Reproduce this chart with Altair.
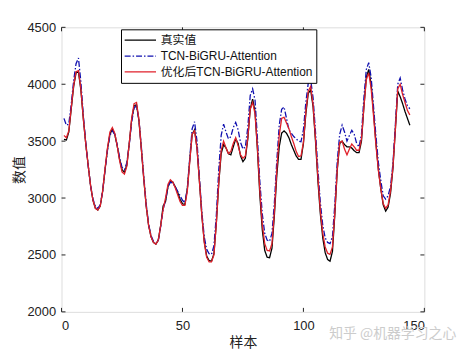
import altair as alt
import pandas as pd

idx = list(range(1, 145))

true_vals = [3515, 3510, 3580, 3780, 3980, 4100, 4110, 3950, 3700, 3480,
             3290, 3110, 2980, 2910, 2895, 2930, 3060, 3250, 3430, 3560,
             3605, 3560, 3460, 3340, 3250, 3225, 3290, 3480, 3690, 3810,
             3820, 3680, 3430, 3170, 2930, 2760, 2660, 2610, 2595, 2630,
             2760, 2930, 2970, 3100, 3150, 3140, 3100, 3050, 2990, 2950,
             2945, 3080, 3330, 3560, 3600, 3440, 3150, 2850, 2620, 2490,
             2450, 2445, 2510, 2780, 3130, 3390, 3470, 3440, 3390, 3380,
             3450, 3520, 3480, 3370, 3320, 3350, 3520, 3780, 3870, 3760,
             3420, 3020, 2720, 2540, 2480, 2475, 2560, 2850, 3200, 3450,
             3570, 3590, 3570, 3530, 3470, 3420, 3370, 3340, 3340, 3480,
             3740, 3920, 3950, 3800, 3500, 3150, 2860, 2650, 2520, 2460,
             2445, 2530, 2860, 3250, 3480, 3500, 3470, 3450, 3450, 3440,
             3415, 3400, 3400, 3500, 3800, 4060, 4130, 4000, 3750, 3480,
             3250, 3080, 2940, 2885, 2920, 3040, 3260, 3600, 3940, 3890,
             3830, 3760, 3700, 3640]

tcn_vals = [3700, 3640, 3650, 3820, 4030, 4180, 4230, 4020, 3730, 3490,
            3290, 3110, 2990, 2930, 2910, 2940, 3060, 3250, 3420, 3550,
            3590, 3560, 3470, 3360, 3270, 3250, 3310, 3470, 3670, 3790,
            3810, 3690, 3450, 3190, 2950, 2770, 2670, 2620, 2600, 2630,
            2750, 2900, 2980, 3100, 3140, 3130, 3100, 3060, 3020, 2980,
            2960, 3080, 3350, 3610, 3670, 3500, 3180, 2880, 2660, 2550,
            2510, 2505, 2580, 2850, 3250, 3550, 3650, 3580, 3520, 3540,
            3620, 3665, 3600, 3490, 3430, 3450, 3620, 3900, 3960, 3860,
            3520, 3140, 2860, 2690, 2630, 2620, 2690, 2960, 3330, 3640,
            3780, 3800, 3700, 3600, 3570, 3540, 3520, 3500, 3495, 3600,
            3840, 4010, 4040, 3880, 3580, 3250, 2960, 2760, 2650, 2610,
            2600, 2660, 2950, 3330, 3560, 3640, 3580, 3500, 3550, 3595,
            3560, 3480, 3450, 3560, 3880, 4130, 4190, 4060, 3800, 3540,
            3310, 3150, 3020, 2990, 3020, 3100, 3300, 3640, 4000, 4055,
            3950, 3870, 3810, 3785]

opt_vals = [3550, 3530, 3590, 3790, 3990, 4110, 4120, 3960, 3700, 3480,
            3290, 3110, 2980, 2910, 2895, 2930, 3060, 3260, 3440, 3580,
            3620, 3570, 3460, 3330, 3230, 3210, 3280, 3480, 3700, 3830,
            3840, 3690, 3430, 3170, 2930, 2760, 2660, 2610, 2595, 2630,
            2760, 2900, 3000, 3120, 3160, 3140, 3090, 3030, 2970, 2935,
            2935, 3060, 3320, 3560, 3590, 3440, 3150, 2850, 2610, 2480,
            2440, 2440, 2500, 2780, 3140, 3420, 3500, 3440, 3390, 3410,
            3480, 3530, 3460, 3380, 3350, 3370, 3530, 3780, 3840, 3740,
            3440, 3060, 2770, 2600, 2540, 2535, 2600, 2880, 3250, 3550,
            3700, 3710, 3660, 3610, 3540, 3480, 3410, 3365, 3370, 3490,
            3760, 3940, 3980, 3820, 3520, 3180, 2890, 2690, 2570, 2515,
            2505, 2570, 2880, 3260, 3490, 3500, 3430, 3380, 3430, 3475,
            3450, 3420, 3420, 3520, 3800, 4040, 4100, 3960, 3720, 3460,
            3240, 3080, 2950, 2910, 2940, 3060, 3270, 3600, 3960, 4000,
            3910, 3840, 3770, 3730]

series_names = ["真实值", "TCN-BiGRU-Attention", "优化后TCN-BiGRU-Attention"]
series_colors = ["#000000", "#1010b0", "#e0202a"]
series_dash = [[1, 0], [6, 2, 1.5, 2], [1, 0]]
series_width = [1.3, 1.3, 1.6]

x_ticks = [0, 50, 100, 150]
y_ticks = [2000, 2500, 3000, 3500, 4000, 4500]

W, H = 366, 287

rows = []
for name, vals in zip(series_names, [true_vals, tcn_vals, opt_vals]):
    for i, v in zip(idx, vals):
        rows.append({"样本": i, "数值": v, "series": name})
df = pd.DataFrame(rows)

xscale = alt.Scale(domain=[0, 150], nice=False)
yscale = alt.Scale(domain=[2000, 4500], nice=False)

font_lat = "Liberation Sans"
font_cjk = "Noto Sans CJK SC"

lines = alt.Chart(df).mark_line(clip=True).encode(
    x=alt.X("样本:Q", scale=xscale,
            axis=alt.Axis(values=x_ticks, format="d", title="样本", tickSize=0,
                          domain=False, grid=False, labelFont=font_lat,
                          labelFontSize=13, labelColor="#222222", labelPadding=8,
                          titleFont=font_cjk, titleFontSize=14,
                          titleFontWeight="normal", titleColor="#222222",
                          titlePadding=3)),
    y=alt.Y("数值:Q", scale=yscale,
            axis=alt.Axis(values=y_ticks, format="d", title="数值", tickSize=0,
                          domain=False, grid=False, labelFont=font_lat,
                          labelFontSize=13, labelColor="#222222", labelPadding=6,
                          titleFont=font_cjk, titleFontSize=14,
                          titleFontWeight="normal", titleColor="#222222",
                          titlePadding=0)),
    color=alt.Color("series:N",
                    scale=alt.Scale(domain=series_names, range=series_colors),
                    legend=alt.Legend(title=None, orient="none",
                                      legendX=60, legendY=2,
                                      symbolType="stroke", symbolSize=1000,
                                      symbolStrokeWidth=1.5, clipHeight=16,
                                      labelFont=font_lat + ", " + font_cjk,
                                      labelFontSize=12, labelColor="#111111",
                                      labelOffset=4, rowPadding=0, padding=3,
                                      strokeColor="#000000", fillColor="#ffffff",
                                      labelLimit=300, symbolOffset=0)),
    strokeDash=alt.StrokeDash("series:N",
                              scale=alt.Scale(domain=series_names, range=series_dash)),
    strokeWidth=alt.StrokeWidth("series:N",
                                scale=alt.Scale(domain=series_names, range=series_width)),
    detail="series:N",
)

xt = pd.DataFrame({"t": x_ticks})
yt = pd.DataFrame({"t": y_ticks})
tick_style = dict(color="#222222", strokeWidth=1)
xb = alt.Chart(xt).mark_rule(**tick_style).encode(
    x=alt.X("t:Q", scale=xscale), y=alt.value(H), y2=alt.value(H - 4))
xtop = alt.Chart(xt).mark_rule(**tick_style).encode(
    x=alt.X("t:Q", scale=xscale), y=alt.value(0), y2=alt.value(4))
yl = alt.Chart(yt).mark_rule(**tick_style).encode(
    y=alt.Y("t:Q", scale=yscale), x=alt.value(0), x2=alt.value(4))
yr = alt.Chart(yt).mark_rule(**tick_style).encode(
    y=alt.Y("t:Q", scale=yscale), x=alt.value(W), x2=alt.value(W - 4))

wm = alt.Chart(pd.DataFrame({"t": ["知乎 @机器学习之心"]})).mark_text(
    align="left", baseline="middle", font=font_cjk, fontSize=14,
    color="#cccccc").encode(text="t:N", x=alt.value(270), y=alt.value(H + 22))

chart = alt.layer(lines, xb, xtop, yl, yr, wm).properties(
    width=W, height=H,
    autosize=alt.AutoSizeParams(type="none"),
    padding={"left": 54, "top": 18, "right": 42, "bottom": 40},
).configure_view(stroke="#222222", strokeWidth=1).configure(background="#ffffff")

chart.save("out.html", embed_options={"renderer": "svg", "actions": False})
